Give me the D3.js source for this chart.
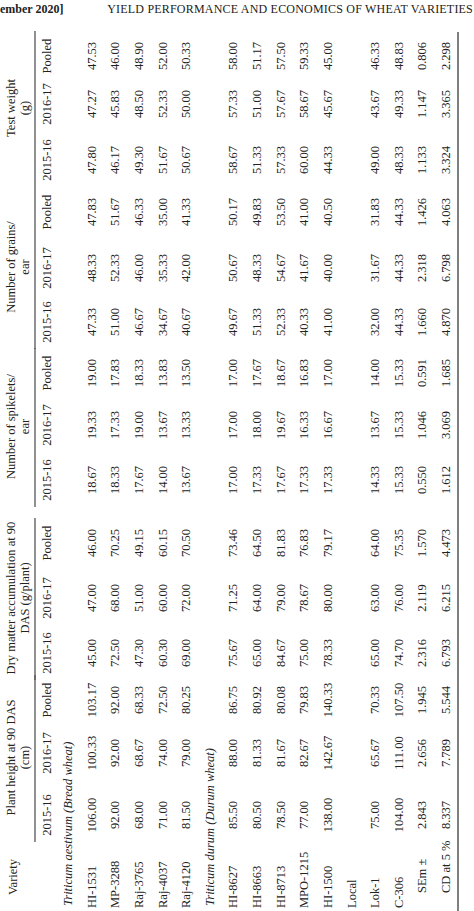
<!DOCTYPE html>
<html><head><meta charset="utf-8">
<script src="https://cdn.jsdelivr.net/npm/d3@7"></script>
<style>body{margin:0;background:#fff}svg{display:block}text{font-family:"Liberation Serif","Times New Roman",serif;fill:#222}</style>
</head><body>
<script>
const rows = ["Triticum aestivum (Bread wheat)","HI-1531","MP-3288","Raj-3765","Raj-4037","Raj-4120",
  "Triticum durum (Durum wheat)","HI-8627","HI-8663","HI-8713","MPO-1215","HI-1500",
  "Local","Lok-1","C-306","SEm ±","CD at 5 %"];
const groupRows = ["Triticum aestivum (Bread wheat)","Triticum durum (Durum wheat)"];
const indentRows = ["SEm ±","CD at 5 %"];
const dataRows = ["HI-1531","MP-3288","Raj-3765","Raj-4037","Raj-4120","HI-8627","HI-8663","HI-8713","MPO-1215","HI-1500","Lok-1","C-306","SEm ±","CD at 5 %"];
const groups = [["Plant height at 90 DAS","(cm)"],["Dry matter accumulation at 90","DAS (g/plant)"],["Number of spikelets/","ear"],["Number of grains/","ear"],["Test weight","(g)"]];
const seasons = ["2015-16","2016-17","Pooled"];
const ph15 = ["106.00","92.00","68.00","71.00","81.50","85.50","80.50","78.50","77.00","138.00","75.00","104.00","2.843","8.337"];
const ph16 = ["100.33","92.00","68.67","74.00","79.00","88.00","81.33","81.67","82.67","142.67","65.67","111.00","2.656","7.789"];
const phP  = ["103.17","92.00","68.33","72.50","80.25","86.75","80.92","80.08","79.83","140.33","70.33","107.50","1.945","5.544"];
const dm15 = ["45.00","72.50","47.30","60.30","69.00","75.67","65.00","84.67","75.00","78.33","65.00","74.70","2.316","6.793"];
const dm16 = ["47.00","68.00","51.00","60.00","72.00","71.25","64.00","79.00","78.67","80.00","63.00","76.00","2.119","6.215"];
const dmP  = ["46.00","70.25","49.15","60.15","70.50","73.46","64.50","81.83","76.83","79.17","64.00","75.35","1.570","4.473"];
const sp15 = ["18.67","18.33","17.67","14.00","13.67","17.00","17.33","17.67","17.33","17.33","14.33","15.33","0.550","1.612"];
const sp16 = ["19.33","17.33","19.00","13.67","13.33","17.00","18.00","19.67","16.33","16.67","13.67","15.33","1.046","3.069"];
const spP  = ["19.00","17.83","18.33","13.83","13.50","17.00","17.67","18.67","16.83","17.00","14.00","15.33","0.591","1.685"];
const gr15 = ["47.33","51.00","46.67","34.67","40.67","49.67","51.33","52.33","40.33","41.00","32.00","44.33","1.660","4.870"];
const gr16 = ["48.33","52.33","46.00","35.33","42.00","50.67","48.33","54.67","41.67","40.00","31.67","44.33","2.318","6.798"];
const grP  = ["47.83","51.67","46.33","35.00","41.33","50.17","49.83","53.50","41.00","40.50","31.83","44.33","1.426","4.063"];
const tw15 = ["47.80","46.17","49.30","51.67","50.67","58.67","51.33","57.33","60.00","44.33","49.00","48.33","1.133","3.324"];
const tw16 = ["47.27","45.83","48.50","52.33","50.00","57.33","51.00","57.67","58.67","45.67","43.67","49.33","1.147","3.365"];
const twP  = ["47.53","46.00","48.90","52.00","50.33","58.00","51.17","57.50","59.33","45.00","46.33","48.83","0.806","2.298"];
const columns = [ph15,ph16,phP,dm15,dm16,dmP,sp15,sp16,spP,gr15,gr16,grP,tw15,tw16,twP];

const W=474,H=911;
const svg=d3.select("body").append("svg").attr("width",W).attr("height",H);
svg.append("text").attr("x",0).attr("y",13).attr("font-size",12).attr("font-weight","bold").text("ember 2020]");
svg.append("text").attr("x",473).attr("y",13).attr("text-anchor","end").attr("font-size",12).attr("letter-spacing",0.2).text("YIELD PERFORMANCE AND ECONOMICS OF WHEAT VARIETIES");

const g=svg.append("g").attr("transform",`translate(0,${H}) rotate(-90)`);
const rowY=d3.scalePoint().domain(rows).range([68,446]);
const colScreenY=[815,753,700,653,598,543,480,425,373,322,268,212,160,104,56];
const colX=d3.scaleOrdinal().domain(d3.range(15)).range(colScreenY.map(v=>H-v));
const fs=12.5;
g.append("text").attr("x",H-877).attr("y",13).attr("text-anchor","middle").attr("dominant-baseline","central").attr("font-size",fs).text("Variety");
groups.forEach((lines,gi)=>{
  const c0=colX(gi*3),c2=colX(gi*3+2),mid=(c0+c2)/2;
  lines.forEach((t,li)=>g.append("text").attr("x",mid).attr("y",11+li*14).attr("text-anchor","middle").attr("dominant-baseline","central").attr("font-size",fs).text(t));
  g.append("line").attr("x1",c0-27).attr("x2",c2+25).attr("y1",35).attr("y2",35).attr("stroke","#555").attr("stroke-width",1.3);
  seasons.forEach((s,si)=>g.append("text").attr("x",colX(gi*3+si)).attr("y",47).attr("text-anchor","middle").attr("dominant-baseline","central").attr("font-size",fs).text(s));
});
rows.forEach(r=>{
  const t=g.append("text").attr("x",indentRows.includes(r)?18:groupRows.includes(r)?5:3).attr("y",rowY(r))
    .attr("dominant-baseline","central").attr("font-size",fs).text(r);
  if(groupRows.includes(r)) t.attr("font-style","italic");
});
columns.forEach((col,ci)=>{
  g.selectAll(null).data(col).enter().append("text")
    .attr("x",colX(ci)).attr("y",(d,i)=>rowY(dataRows[i])).attr("text-anchor","middle")
    .attr("dominant-baseline","central").attr("font-size",fs).text(d=>d);
});
g.append("line").attr("x1",0).attr("x2",H-32).attr("y1",458).attr("y2",458).attr("stroke","#555").attr("stroke-width",1.5);
</script>
</body></html>
